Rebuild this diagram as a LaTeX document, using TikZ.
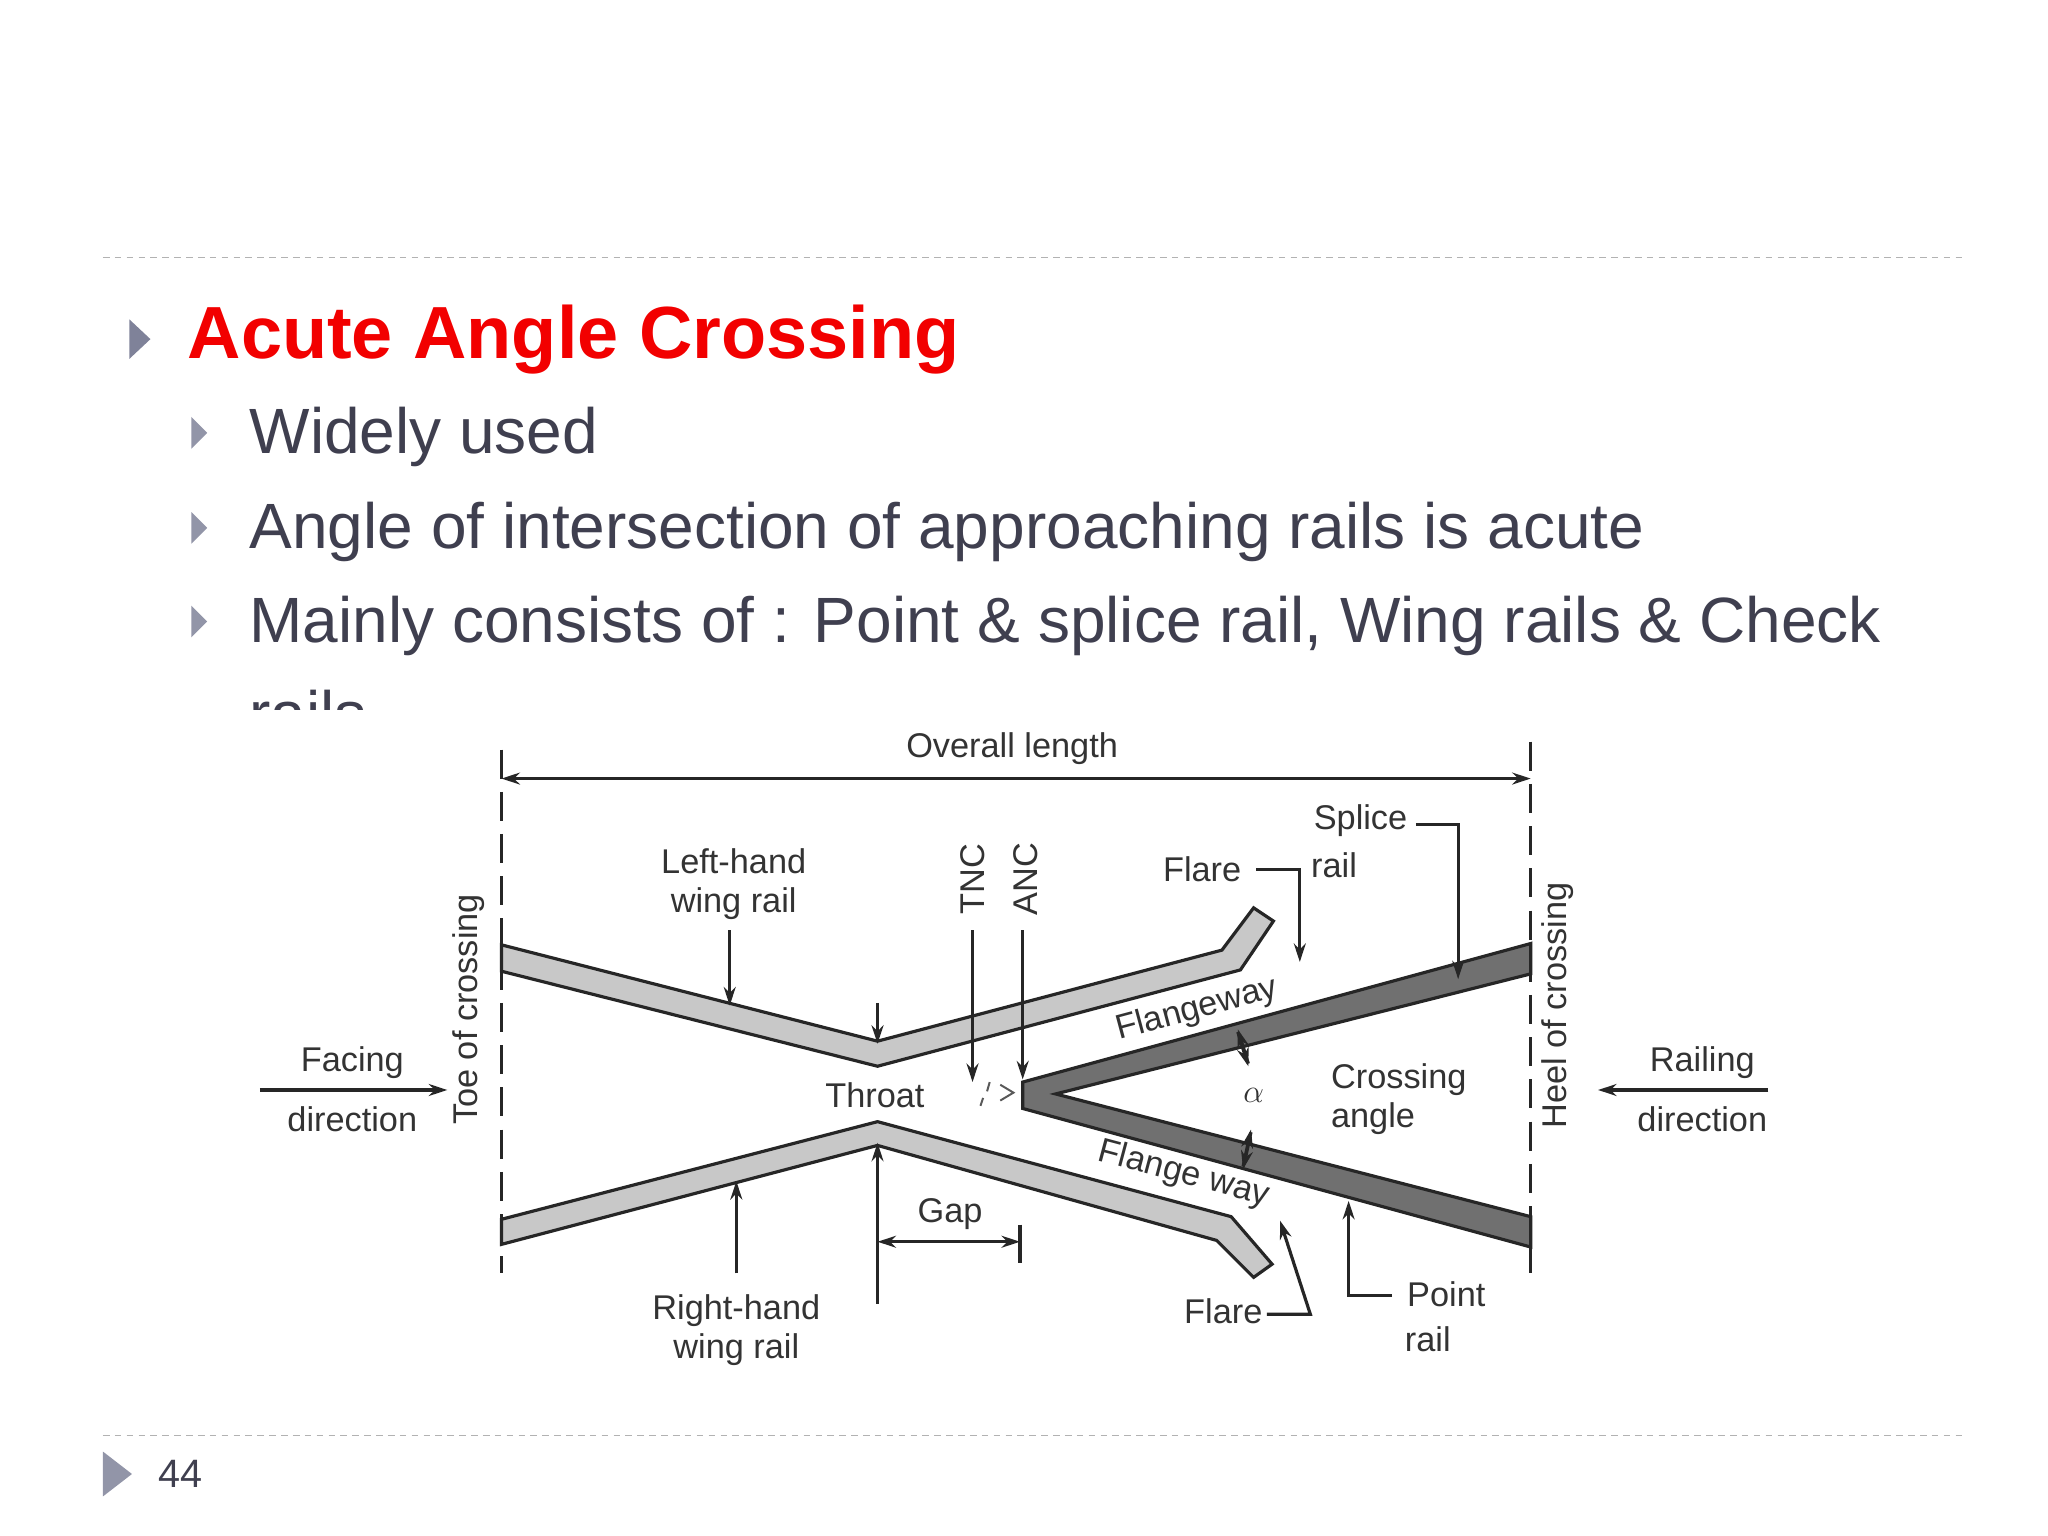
\documentclass[tikz,border=0pt]{standalone}
\usepackage{fontspec}
\setmainfont{Liberation Sans}
\usetikzlibrary{arrows.meta}
\definecolor{txt}{HTML}{3F3F4F}
\definecolor{tri}{HTML}{7F8299}
\definecolor{lrail}{HTML}{C8C8C8}
\definecolor{drail}{HTML}{707070}
\begin{document}
\begin{tikzpicture}[x=1pt,y=-1pt,
  dl/.style={font=\fontsize{26}{30}\selectfont,text=black!80,inner sep=1pt,align=center},
  ln/.style={line width=2.4pt,black!85},
  ar/.style={ln,-{Stealth[length=14pt,width=9pt]}},
  dar/.style={ln,{Stealth[length=14pt,width=9pt]}-{Stealth[length=14pt,width=9pt]}},
  rl/.style={draw=black!85,line width=2.4pt,line join=miter},
  bt/.style={font=\fontsize{48.5}{52}\selectfont,text=txt,anchor=base west,inner sep=0pt}]
\useasboundingbox (0,0) rectangle (1552,1164);
\fill[white] (0,0) rectangle (1552,1164);
% slide
\draw[gray!60,line width=1pt,dash pattern=on 5pt off 4pt] (78,195) -- (1490,195);
\draw[gray!60,line width=1pt,dash pattern=on 5pt off 4pt] (78,1088) -- (1490,1088);
\fill[tri] (98,242) -- (114,257) -- (98,272) -- cycle;
\node[font=\bfseries\fontsize{56}{60}\selectfont,text=red!95!black,anchor=base west,inner sep=0pt] (title) at (142,272) {Acute Angle Crossing};
\foreach \yy/\t [count=\i] in {344/Widely used,416/Angle of intersection of approaching rails is acute,487/{Mainly consists of : Point \& splice rail, Wing rails \& Check}}{
  \fill[tri!85] (145,\yy-28) -- (157,\yy-16) -- (145,\yy-4) -- cycle;
  \node[bt] (b\i) at (189,\yy) {\t};
}
\node[bt] (b4) at (189,558) {rails};
\fill[white] (172,538) rectangle (1362,1083);
\fill[tri!85] (78,1100) -- (100,1117) -- (78,1134) -- cycle;
\node[font=\fontsize{30}{34}\selectfont,text=txt,anchor=west,inner sep=0pt] (pg) at (120,1117) {44};
% dashed boundary lines
\draw[ln,dash pattern=on 22pt off 10pt] (380,568) -- (380,965);
\draw[ln,dash pattern=on 22pt off 10pt] (1160,562) -- (1160,965);
\coordinate (ol1) at (380,590); \coordinate (ol2) at (1160,590);
\draw[dar] (ol1) -- (ol2);
\node[dl] (ol) at (767,567) {Overall length};
% rails
\fill[lrail,rl]
  (380,716) -- (665,789) -- (926,720) -- (950,688) -- (965,698) -- (940,735) -- (665,808) -- (380,736) -- cycle;
\fill[lrail,rl]
  (380,924) -- (665,850) -- (933,922) -- (964,958) -- (950,968) -- (922,940) -- (665,868) -- (380,943) -- cycle;
\fill[drail,rl]
  (775,820) -- (1160,715) -- (1160,738) -- (800,829) -- (1160,922) -- (1160,945) -- (775,840) -- cycle;
% tip marks
\draw[black!65,line width=1.5pt] (750,820)--(748,827) (745,832)--(743,838);
\draw[black!65,line width=1.5pt] (758,822)--(768,828)--(758,834);
% labels
\node[dl] (lh) at (556,670) {Left-hand\\wing rail};
\draw[ar] (553,705) -- (553,762);
\draw[ar] (665,760) -- (665,791);
\node[dl] (rh) at (558,1008) {Right-hand\\wing rail};
\draw[ar] (558,965) -- (558,895);
\draw[ar] (665,988) -- (665,866);
\node[dl] (thr) at (663,830) {Throat};
\node[dl] (gap) at (720,920) {Gap};
\draw[dar] (665,941) -- (773,941);
\draw[ln] (773,928) -- (773,957);
\node[dl,rotate=90] (tnc) at (737,666) {TNC};
\node[dl,rotate=90] (anc) at (777,666) {ANC};
\draw[ar] (737,705) -- (737,820);
\draw[ar] (775,705) -- (775,818);
\node[dl,rotate=15] (fw1) at (907,765) {Flangeway};
\node[dl,rotate=-15] (fw2) at (897,890) {Flange way};
\draw[ar] (938,782) -- (946,808);
\draw[ar] (946,806) -- (938,780);
\draw[ar] (948,858) -- (942,886);
\draw[ar] (942,884) -- (948,856);
\node[dl] (alpha) at (950,830) {$\alpha$};
\node[dl,align=left] (ca) at (1060,833) {Crossing\\angle};
\node[dl] (fl1) at (911,659) {Flare};
\draw[ar] (952,659) -- (985,659) -- (985,729);
\node[dl] (sp) at (1031,622) {Splice};
\node[dl] (spr) at (1011,656) {rail};
\draw[ar] (1073,625) -- (1105,625) -- (1105,742);
\node[dl] (fl2) at (927,994) {Flare};
\draw[ar] (960,996) -- (993,996) -- (970,925);
\node[dl] (pt) at (1096,981) {Point};
\node[dl] (ptr) at (1082,1015) {rail};
\draw[ar] (1055,982) -- (1022,982) -- (1022,910);
\node[dl,rotate=90] (toe) at (355,765) {Toe of crossing};
\node[dl,rotate=90] (heel) at (1180,762) {Heel of crossing};
\node[dl] (fac) at (267,848) {direction};
\node[dl] (fac0) at (267,805) {Facing};
\draw[ar] (197,826) -- (339,826);
\node[dl] (rl0) at (1290,805) {Railing};
\node[dl] (rl) at (1290,848) {direction};
\draw[ar] (1340,826) -- (1211,826);
\end{tikzpicture}
\end{document}
